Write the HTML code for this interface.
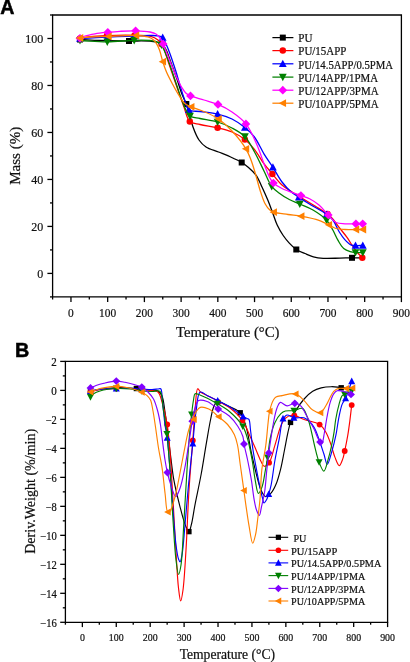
<!DOCTYPE html>
<html><head><meta charset="utf-8"><title>TGA / DTG curves</title>
<style>
html,body{margin:0;padding:0;background:#fff;}
body{width:410px;height:662px;overflow:hidden;font-family:"Liberation Serif",serif;}
svg{display:block;filter:blur(0.45px);}
</style></head><body>
<svg width="410" height="662" viewBox="0 0 410 662">
<g stroke="#000" stroke-width="1.3" fill="none">
<path d="M52.6,15 H401.4 V296.9 H52.6 Z"/>
<path d="M52.6,296.9 H50"/>
<path d="M52.6,273.41 H47.4"/>
<path d="M52.6,249.92 H50"/>
<path d="M52.6,226.42 H47.4"/>
<path d="M52.6,202.93 H50"/>
<path d="M52.6,179.44 H47.4"/>
<path d="M52.6,155.95 H50"/>
<path d="M52.6,132.46 H47.4"/>
<path d="M52.6,108.97 H50"/>
<path d="M52.6,85.47 H47.4"/>
<path d="M52.6,61.98 H50"/>
<path d="M52.6,38.49 H47.4"/>
<path d="M52.6,15 H50"/>
<path d="M52.6,296.9 V299.5"/>
<path d="M70.96,296.9 V302.1"/>
<path d="M89.32,296.9 V299.5"/>
<path d="M107.67,296.9 V302.1"/>
<path d="M126.03,296.9 V299.5"/>
<path d="M144.39,296.9 V302.1"/>
<path d="M162.75,296.9 V299.5"/>
<path d="M181.11,296.9 V302.1"/>
<path d="M199.46,296.9 V299.5"/>
<path d="M217.82,296.9 V302.1"/>
<path d="M236.18,296.9 V299.5"/>
<path d="M254.54,296.9 V302.1"/>
<path d="M272.89,296.9 V299.5"/>
<path d="M291.25,296.9 V302.1"/>
<path d="M309.61,296.9 V299.5"/>
<path d="M327.97,296.9 V302.1"/>
<path d="M346.33,296.9 V299.5"/>
<path d="M364.68,296.9 V302.1"/>
<path d="M383.04,296.9 V299.5"/>
<path d="M401.4,296.9 V302.1"/>
</g>
<g font-family="Liberation Serif, serif" fill="#111" stroke="#111" stroke-width="0.22">
<text x="43.2" y="277.91" font-size="13" text-anchor="end" textLength="6" lengthAdjust="spacingAndGlyphs" >0</text>
<text x="43.2" y="230.92" font-size="13" text-anchor="end" textLength="12" lengthAdjust="spacingAndGlyphs" >20</text>
<text x="43.2" y="183.94" font-size="13" text-anchor="end" textLength="12" lengthAdjust="spacingAndGlyphs" >40</text>
<text x="43.2" y="136.96" font-size="13" text-anchor="end" textLength="12" lengthAdjust="spacingAndGlyphs" >60</text>
<text x="43.2" y="89.97" font-size="13" text-anchor="end" textLength="12" lengthAdjust="spacingAndGlyphs" >80</text>
<text x="43.2" y="42.99" font-size="13" text-anchor="end" textLength="18" lengthAdjust="spacingAndGlyphs" >100</text>
<text x="70.96" y="317.4" font-size="12.6" text-anchor="middle" textLength="5.7" lengthAdjust="spacingAndGlyphs" >0</text>
<text x="107.67" y="317.4" font-size="12.6" text-anchor="middle" textLength="17.1" lengthAdjust="spacingAndGlyphs" >100</text>
<text x="144.39" y="317.4" font-size="12.6" text-anchor="middle" textLength="17.1" lengthAdjust="spacingAndGlyphs" >200</text>
<text x="181.11" y="317.4" font-size="12.6" text-anchor="middle" textLength="17.1" lengthAdjust="spacingAndGlyphs" >300</text>
<text x="217.82" y="317.4" font-size="12.6" text-anchor="middle" textLength="17.1" lengthAdjust="spacingAndGlyphs" >400</text>
<text x="254.54" y="317.4" font-size="12.6" text-anchor="middle" textLength="17.1" lengthAdjust="spacingAndGlyphs" >500</text>
<text x="291.25" y="317.4" font-size="12.6" text-anchor="middle" textLength="17.1" lengthAdjust="spacingAndGlyphs" >600</text>
<text x="327.97" y="317.4" font-size="12.6" text-anchor="middle" textLength="17.1" lengthAdjust="spacingAndGlyphs" >700</text>
<text x="364.68" y="317.4" font-size="12.6" text-anchor="middle" textLength="17.1" lengthAdjust="spacingAndGlyphs" >800</text>
<text x="401.4" y="317.4" font-size="12.6" text-anchor="middle" textLength="17.1" lengthAdjust="spacingAndGlyphs" >900</text>
<text x="227.7" y="336.9" font-size="14.6" text-anchor="middle" textLength="103.5" lengthAdjust="spacingAndGlyphs" >Temperature (&#176;C)</text>
<text transform="translate(19.5,155.8) rotate(-90)" font-size="14.3" text-anchor="middle" textLength="58" lengthAdjust="spacingAndGlyphs">Mass (%)</text>
</g>
<text x="0.2" y="13.8" font-family="Liberation Sans, sans-serif" font-weight="bold" font-size="19.6" stroke="#000" stroke-width="0.5">A</text>
<path d="M80,39.5 C86.67,39.83 92.71,40.26 100,40.5 C108.77,40.79 120.11,40.88 129,41 C136.56,41.1 144.67,40.74 150,41.2 C153.31,41.48 155.58,41.54 158,42.5 C160.36,43.43 162.52,44.5 164.4,46.8 C167.25,50.28 169.07,57.68 171.2,63.2 C173.33,68.72 175.37,74.61 177.2,79.9 C178.84,84.65 180.09,89.29 181.7,93.5 C183.14,97.26 184.94,100.34 186.3,104 C187.72,107.83 188.86,112.08 190,116 C191.09,119.74 191.63,123.24 193,127 C194.54,131.21 196.56,136.5 199,140 C201.03,142.91 203.09,145.08 206,147 C209.39,149.23 214.36,150.32 218.5,152 C222.59,153.66 226.77,155.22 230.7,157 C234.49,158.72 238.54,160.59 241.7,162.5 C244.31,164.08 246.26,165.47 248.5,167.4 C251.04,169.59 253.82,172.05 256,175.1 C258.44,178.52 260.13,183.02 262.1,187.2 C264.17,191.58 266.28,196.38 268.1,200.8 C269.79,204.93 271.18,208.86 272.7,212.9 C274.22,216.93 275.41,221.18 277.2,225 C278.93,228.7 281.06,232.36 283.2,235.5 C285.12,238.32 287.1,240.75 289.3,243.1 C291.47,245.42 293.69,247.77 296.3,249.5 C298.92,251.24 302.11,252.27 305,253.5 C307.81,254.7 310.45,256 313.4,256.8 C316.5,257.63 319.48,258.04 323.2,258.3 C328.04,258.64 334.87,258.19 340,258.1 C344.34,258.02 348.18,257.85 352,257.8 C355.48,257.76 358.67,257.8 362,257.8" fill="none" stroke="#000000" stroke-width="1.3" stroke-linejoin="round"/>
<rect x="77" y="36.5" width="6" height="6" fill="#000000"/>
<rect x="126" y="38" width="6" height="6" fill="#000000"/>
<rect x="183.3" y="101" width="6" height="6" fill="#000000"/>
<rect x="238.7" y="159.5" width="6" height="6" fill="#000000"/>
<rect x="293.3" y="246.5" width="6" height="6" fill="#000000"/>
<rect x="349" y="254.8" width="6" height="6" fill="#000000"/>
<path d="M80,38.5 C83.33,37.87 86.21,37.07 90,36.6 C94.9,35.99 100.58,35.81 107,35.6 C115.38,35.32 128.08,35.2 136,35.4 C141.51,35.54 146.06,35.19 150,36.2 C153.13,37 155.82,38.18 158,40 C160.14,41.79 161.51,44.14 163,47 C164.96,50.76 166.31,56.17 168,61 C169.8,66.15 171.67,71.67 173.5,77 C175.33,82.33 177.2,87.85 179,93 C180.69,97.83 182.22,102.31 184,107 C185.82,111.81 186.67,118.65 189.8,121.5 C192.38,123.85 196.11,123.57 200,124.5 C205.05,125.71 212.06,126.48 217.6,127.8 C222.67,129.01 227.44,130.05 232,132 C236.54,133.95 241.11,136.53 244.9,139.5 C248.53,142.34 251.38,145.55 254.4,149.3 C257.82,153.55 260.88,159.57 264.1,163.9 C266.87,167.63 269.51,170.49 272.4,173.9 C275.47,177.52 278.56,181.9 282,185 C285.14,187.83 288.73,189.85 292,192 C295.02,193.99 297.59,195.48 300.9,197.5 C305.06,200.04 310.23,202.94 315,206 C320.09,209.27 326.29,212.69 330.5,216.6 C334.15,219.99 336.47,224.03 339.3,227.6 C341.96,230.95 344.77,234.28 347,237.4 C348.91,240.08 350.3,242.62 352,245.1 C353.64,247.48 355.24,249.86 357,252 C358.68,254.05 360.53,255.8 362.3,257.7" fill="none" stroke="#ff0000" stroke-width="1.3" stroke-linejoin="round"/>
<circle cx="80" cy="38.5" r="3.24" fill="#ff0000"/>
<circle cx="107" cy="35.6" r="3.24" fill="#ff0000"/>
<circle cx="134.5" cy="35.4" r="3.24" fill="#ff0000"/>
<circle cx="161.5" cy="44" r="3.24" fill="#ff0000"/>
<circle cx="189.8" cy="121.5" r="3.24" fill="#ff0000"/>
<circle cx="217.6" cy="127.8" r="3.24" fill="#ff0000"/>
<circle cx="244.9" cy="139.5" r="3.24" fill="#ff0000"/>
<circle cx="272.4" cy="173.9" r="3.24" fill="#ff0000"/>
<circle cx="300" cy="197" r="3.24" fill="#ff0000"/>
<circle cx="327.5" cy="214" r="3.24" fill="#ff0000"/>
<circle cx="362.3" cy="257.7" r="3.24" fill="#ff0000"/>
<path d="M80,38.5 C89.17,38 98.33,37.42 107.5,37 C116.66,36.58 127.21,36.27 135,36 C140.75,35.8 145.78,35.49 150,35.5 C153.08,35.51 155.72,35.33 158,35.8 C159.81,36.17 161.43,36.46 162.7,37.6 C164.22,38.96 164.92,41.68 166,44 C167.23,46.65 168.31,49.25 169.6,52.7 C171.44,57.62 173.87,65.02 175.7,70.8 C177.37,76.05 178.75,81.15 180.2,85.9 C181.5,90.16 182.57,94.02 184,98 C185.43,101.99 185.99,107.58 188.8,109.8 C191.45,111.89 195.85,110.88 200,111.5 C205.21,112.28 212.08,112.77 217.6,114.1 C222.7,115.33 227.47,116.77 232,119 C236.57,121.25 241.06,124.47 244.9,127.6 C248.46,130.51 251.46,133.16 254.4,137 C257.97,141.66 260.85,148.82 264.1,154.1 C267.02,158.84 269.98,162.76 272.9,167.3 C275.95,172.04 278.79,177.76 282,182 C284.77,185.66 287.71,188.85 290.7,191.5 C293.33,193.83 295.79,195.28 298.8,197.3 C302.42,199.74 306.82,202.46 311,205 C315.32,207.63 320.47,210.09 324.3,212.8 C327.53,215.09 330.29,216.95 332.7,219.9 C335.39,223.2 337.09,228.49 339.3,232 C341.13,234.89 342.74,237.38 344.8,239.6 C346.76,241.72 349.24,244.23 351.3,245.1 C352.75,245.71 353.91,245.42 355.5,245.5 C357.6,245.6 360.37,245.5 362.8,245.5" fill="none" stroke="#0000ff" stroke-width="1.3" stroke-linejoin="round"/>
<path d="M80,34.42 L83.9,41.76 L76.1,41.76Z" fill="#0000ff"/>
<path d="M107.5,32.92 L111.4,40.26 L103.6,40.26Z" fill="#0000ff"/>
<path d="M135,31.92 L138.9,39.26 L131.1,39.26Z" fill="#0000ff"/>
<path d="M162.7,33.52 L166.6,40.86 L158.8,40.86Z" fill="#0000ff"/>
<path d="M188.8,105.72 L192.7,113.06 L184.9,113.06Z" fill="#0000ff"/>
<path d="M217.6,110.02 L221.5,117.36 L213.7,117.36Z" fill="#0000ff"/>
<path d="M244.9,123.52 L248.8,130.86 L241,130.86Z" fill="#0000ff"/>
<path d="M272.9,163.22 L276.8,170.56 L269,170.56Z" fill="#0000ff"/>
<path d="M298.8,193.22 L302.7,200.56 L294.9,200.56Z" fill="#0000ff"/>
<path d="M326.5,210.42 L330.4,217.76 L322.6,217.76Z" fill="#0000ff"/>
<path d="M355.5,241.42 L359.4,248.76 L351.6,248.76Z" fill="#0000ff"/>
<path d="M362.8,241.42 L366.7,248.76 L358.9,248.76Z" fill="#0000ff"/>
<path d="M80,40.5 C89.1,40.93 98.23,41.84 107.3,41.8 C116.3,41.76 126.42,40.47 134.2,40.3 C140.16,40.17 145.8,40.09 150,40.5 C152.82,40.78 154.97,40.84 157,41.8 C158.94,42.72 160.52,44.05 162,46 C164.01,48.65 165.41,53.08 167,57 C168.76,61.35 170.36,66.24 172,71 C173.69,75.9 175.23,80.85 177,86 C178.89,91.5 180.7,97.78 183,103 C185.09,107.74 186.75,113.59 190,116.1 C192.7,118.19 196.19,117.66 200,118.5 C205.03,119.6 212.11,120.33 217.6,122 C222.72,123.56 227.44,125.56 232,128 C236.54,130.43 241.25,132.85 244.9,136.6 C248.81,140.62 251.35,146.26 254.4,151.7 C257.77,157.71 261.06,165.12 264.1,171.2 C266.78,176.56 268.79,182.49 271.7,186.3 C273.92,189.21 276.26,190.81 279,192.9 C282.05,195.23 285.77,197.63 289.3,199.5 C292.71,201.31 296.11,202.37 299.8,204 C303.96,205.84 308.7,207.45 313,210 C317.65,212.76 323.19,216.52 326.6,220.2 C329.39,223.21 330.8,226.45 332.7,229.8 C334.67,233.27 336.23,237.45 338.2,240.7 C339.93,243.56 341.52,246.55 343.7,248.4 C345.6,250.02 348.1,250.92 350.2,251.6 C352.01,252.19 353.58,252.34 355.5,252.5 C357.73,252.69 360.37,252.5 362.8,252.5" fill="none" stroke="#008000" stroke-width="1.3" stroke-linejoin="round"/>
<path d="M80,44.58 L83.9,37.24 L76.1,37.24Z" fill="#008000"/>
<path d="M107.3,45.88 L111.2,38.54 L103.4,38.54Z" fill="#008000"/>
<path d="M134.2,44.38 L138.1,37.04 L130.3,37.04Z" fill="#008000"/>
<path d="M161.5,49.08 L165.4,41.74 L157.6,41.74Z" fill="#008000"/>
<path d="M190,120.18 L193.9,112.84 L186.1,112.84Z" fill="#008000"/>
<path d="M217.6,126.08 L221.5,118.74 L213.7,118.74Z" fill="#008000"/>
<path d="M244.9,140.68 L248.8,133.34 L241,133.34Z" fill="#008000"/>
<path d="M271.7,190.38 L275.6,183.04 L267.8,183.04Z" fill="#008000"/>
<path d="M299.8,208.08 L303.7,200.74 L295.9,200.74Z" fill="#008000"/>
<path d="M326.6,224.28 L330.5,216.94 L322.7,216.94Z" fill="#008000"/>
<path d="M355.5,256.58 L359.4,249.24 L351.6,249.24Z" fill="#008000"/>
<path d="M362.8,256.58 L366.7,249.24 L358.9,249.24Z" fill="#008000"/>
<path d="M80,38.3 C81.67,37.53 83,36.67 85,36 C87.72,35.09 91.45,34.4 95,33.8 C98.99,33.13 103.58,32.72 107.8,32.3 C111.91,31.89 115.68,31.55 120,31.3 C124.88,31.02 130.51,30.67 135.6,30.8 C140.5,30.93 146.27,31.23 150,32 C152.47,32.51 154.3,32.95 156,34 C157.6,34.99 158.84,36.43 160,38 C161.27,39.72 162.03,41.47 163.2,44 C165.07,48.05 167.48,54.9 169.6,60.2 C171.65,65.33 173.58,70.58 175.7,75.3 C177.63,79.6 179.68,84.13 181.7,87.4 C183.22,89.86 184.64,92.04 186.3,93.5 C187.62,94.66 188.64,95.1 190.5,95.9 C193.67,97.27 199.46,98.6 204,100 C208.63,101.43 213.43,102.46 218,104.4 C222.77,106.42 227.5,108.9 232,112 C236.82,115.32 241.93,118.95 245.9,123.9 C250.37,129.48 253.71,137.55 256.8,144.4 C259.72,150.89 261.72,157.89 264.1,163.9 C266.17,169.14 268.31,175.1 270.2,178.5 C271.32,180.51 271.89,181.56 273.4,183 C275.45,184.95 278.46,186.74 282,188.5 C286.97,190.98 295.74,193.55 300.9,195.5 C304.49,196.85 307.06,197.48 310,199 C313.1,200.6 316.11,202.54 319,205 C322.24,207.76 325.31,211.94 328.3,215 C330.95,217.71 333.07,221.06 336,222.5 C338.69,223.83 341.85,223.57 345,223.8 C348.45,224.05 352.69,223.8 355.9,223.8 C358.43,223.8 360.43,223.8 362.7,223.8" fill="none" stroke="#ff00ff" stroke-width="1.3" stroke-linejoin="round"/>
<path d="M80,33.95 L84.35,38.3 L80,42.65 L75.65,38.3Z" fill="#ff00ff"/>
<path d="M107.8,27.95 L112.15,32.3 L107.8,36.65 L103.45,32.3Z" fill="#ff00ff"/>
<path d="M135.6,26.45 L139.95,30.8 L135.6,35.15 L131.25,30.8Z" fill="#ff00ff"/>
<path d="M163.2,39.65 L167.55,44 L163.2,48.35 L158.85,44Z" fill="#ff00ff"/>
<path d="M190.5,91.55 L194.85,95.9 L190.5,100.25 L186.15,95.9Z" fill="#ff00ff"/>
<path d="M218,100.05 L222.35,104.4 L218,108.75 L213.65,104.4Z" fill="#ff00ff"/>
<path d="M245.9,119.55 L250.25,123.9 L245.9,128.25 L241.55,123.9Z" fill="#ff00ff"/>
<path d="M273.4,178.65 L277.75,183 L273.4,187.35 L269.05,183Z" fill="#ff00ff"/>
<path d="M300.9,191.15 L305.25,195.5 L300.9,199.85 L296.55,195.5Z" fill="#ff00ff"/>
<path d="M328.3,210.65 L332.65,215 L328.3,219.35 L323.95,215Z" fill="#ff00ff"/>
<path d="M355.9,219.45 L360.25,223.8 L355.9,228.15 L351.55,223.8Z" fill="#ff00ff"/>
<path d="M362.7,219.45 L367.05,223.8 L362.7,228.15 L358.35,223.8Z" fill="#ff00ff"/>
<path d="M80,38 C83.33,37.67 86.16,37.25 90,37 C95.2,36.66 102.73,36.62 108.4,36.4 C113.28,36.21 117.43,35.95 122,35.8 C126.63,35.65 131.52,35.27 136,35.5 C140.16,35.71 144.92,36.07 148,37 C150.09,37.63 151.57,38.38 153,39.5 C154.4,40.59 155.47,42 156.5,43.6 C157.68,45.43 158.57,47.5 159.5,50 C160.72,53.27 161.59,57.92 162.8,61.7 C163.96,65.34 165.05,68.7 166.6,72.3 C168.3,76.25 170.63,80.52 172.7,84.4 C174.66,88.07 176.6,91.71 178.7,95 C180.65,98.05 182.47,101.49 184.8,103.5 C186.73,105.17 188.62,105.65 191.2,106.8 C194.89,108.44 200.48,109.99 205,112 C209.59,114.04 214.18,116.03 218.5,119 C223.21,122.24 227.67,126.38 232,131 C236.84,136.16 242.61,143.37 245.9,148.8 C248.33,152.81 249.46,156.01 251,160 C252.69,164.36 254.04,169.16 255.5,174 C257.05,179.14 258.34,184.9 260,190 C261.56,194.8 263.17,200.25 265.1,203.8 C266.48,206.34 267.98,208.35 269.6,209.8 C270.89,210.95 271.84,211.53 273.7,212.2 C276.95,213.37 283.32,213.82 288,214.5 C292.48,215.15 296.69,215.42 301.2,216.2 C306.01,217.03 311.31,217.92 316,219.4 C320.49,220.82 325.17,223.1 328.8,224.8 C331.57,226.09 333.39,227.71 336,228.5 C338.76,229.33 341.85,229.33 345,229.5 C348.45,229.69 352.67,229.5 355.9,229.5 C358.49,229.5 360.57,229.5 362.9,229.5" fill="none" stroke="#ff8000" stroke-width="1.3" stroke-linejoin="round"/>
<path d="M75.92,38 L83.26,34.1 L83.26,41.9Z" fill="#ff8000"/>
<path d="M104.32,36.4 L111.66,32.5 L111.66,40.3Z" fill="#ff8000"/>
<path d="M131.92,35.5 L139.26,31.6 L139.26,39.4Z" fill="#ff8000"/>
<path d="M158.72,61.7 L166.06,57.8 L166.06,65.6Z" fill="#ff8000"/>
<path d="M187.12,106.8 L194.46,102.9 L194.46,110.7Z" fill="#ff8000"/>
<path d="M214.42,119 L221.76,115.1 L221.76,122.9Z" fill="#ff8000"/>
<path d="M241.82,148.8 L249.16,144.9 L249.16,152.7Z" fill="#ff8000"/>
<path d="M269.62,212.2 L276.96,208.3 L276.96,216.1Z" fill="#ff8000"/>
<path d="M297.12,216.2 L304.46,212.3 L304.46,220.1Z" fill="#ff8000"/>
<path d="M324.72,224.8 L332.06,220.9 L332.06,228.7Z" fill="#ff8000"/>
<path d="M351.82,229.5 L359.16,225.6 L359.16,233.4Z" fill="#ff8000"/>
<path d="M358.82,229.5 L366.16,225.6 L366.16,233.4Z" fill="#ff8000"/>
<path d="M272.4,37.6 H293.4" stroke="#000000" stroke-width="1.25"/>
<rect x="279.8" y="34.6" width="6" height="6" fill="#000000"/>
<text x="298.3" y="42.4" font-family="Liberation Serif, serif" font-size="11.8" fill="#111" stroke="#111" stroke-width="0.22" textLength="14.2" lengthAdjust="spacingAndGlyphs">PU</text>
<path d="M272.4,50.6 H293.4" stroke="#ff0000" stroke-width="1.25"/>
<circle cx="282.8" cy="50.6" r="3.24" fill="#ff0000"/>
<text x="298.3" y="55.4" font-family="Liberation Serif, serif" font-size="11.8" fill="#111" stroke="#111" stroke-width="0.22" textLength="48" lengthAdjust="spacingAndGlyphs">PU/15APP</text>
<path d="M272.4,63.8 H293.4" stroke="#0000ff" stroke-width="1.25"/>
<path d="M282.8,59.72 L286.7,67.06 L278.9,67.06Z" fill="#0000ff"/>
<text x="298.3" y="68.6" font-family="Liberation Serif, serif" font-size="11.8" fill="#111" stroke="#111" stroke-width="0.22" textLength="94.8" lengthAdjust="spacingAndGlyphs">PU/14.5APP/0.5PMA</text>
<path d="M272.4,77.1 H293.4" stroke="#008000" stroke-width="1.25"/>
<path d="M282.8,81.18 L286.7,73.84 L278.9,73.84Z" fill="#008000"/>
<text x="298.3" y="81.9" font-family="Liberation Serif, serif" font-size="11.8" fill="#111" stroke="#111" stroke-width="0.22" textLength="79.8" lengthAdjust="spacingAndGlyphs">PU/14APP/1PMA</text>
<path d="M272.4,90.2 H293.4" stroke="#ff00ff" stroke-width="1.25"/>
<path d="M282.8,85.85 L287.15,90.2 L282.8,94.55 L278.45,90.2Z" fill="#ff00ff"/>
<text x="298.3" y="95" font-family="Liberation Serif, serif" font-size="11.8" fill="#111" stroke="#111" stroke-width="0.22" textLength="80.3" lengthAdjust="spacingAndGlyphs">PU/12APP/3PMA</text>
<path d="M272.4,103.2 H293.4" stroke="#ff8000" stroke-width="1.25"/>
<path d="M278.72,103.2 L286.06,99.3 L286.06,107.1Z" fill="#ff8000"/>
<text x="298.3" y="108" font-family="Liberation Serif, serif" font-size="11.8" fill="#111" stroke="#111" stroke-width="0.22" textLength="80.3" lengthAdjust="spacingAndGlyphs">PU/10APP/5PMA</text>
<g stroke="#000" stroke-width="1.3" fill="none">
<path d="M65.4,361.4 H387.6 V622.3 H65.4 Z"/>
<path d="M65.4,622.3 H60.2"/>
<path d="M65.4,607.81 H62.8"/>
<path d="M65.4,593.31 H60.2"/>
<path d="M65.4,578.82 H62.8"/>
<path d="M65.4,564.32 H60.2"/>
<path d="M65.4,549.83 H62.8"/>
<path d="M65.4,535.33 H60.2"/>
<path d="M65.4,520.84 H62.8"/>
<path d="M65.4,506.34 H60.2"/>
<path d="M65.4,491.85 H62.8"/>
<path d="M65.4,477.36 H60.2"/>
<path d="M65.4,462.86 H62.8"/>
<path d="M65.4,448.37 H60.2"/>
<path d="M65.4,433.87 H62.8"/>
<path d="M65.4,419.38 H60.2"/>
<path d="M65.4,404.88 H62.8"/>
<path d="M65.4,390.39 H60.2"/>
<path d="M65.4,375.89 H62.8"/>
<path d="M65.4,361.4 H60.2"/>
<path d="M65.4,622.3 V624.7"/>
<path d="M82.36,622.3 V627.1"/>
<path d="M99.32,622.3 V624.7"/>
<path d="M116.27,622.3 V627.1"/>
<path d="M133.23,622.3 V624.7"/>
<path d="M150.19,622.3 V627.1"/>
<path d="M167.15,622.3 V624.7"/>
<path d="M184.11,622.3 V627.1"/>
<path d="M201.06,622.3 V624.7"/>
<path d="M218.02,622.3 V627.1"/>
<path d="M234.98,622.3 V624.7"/>
<path d="M251.94,622.3 V627.1"/>
<path d="M268.89,622.3 V624.7"/>
<path d="M285.85,622.3 V627.1"/>
<path d="M302.81,622.3 V624.7"/>
<path d="M319.77,622.3 V627.1"/>
<path d="M336.73,622.3 V624.7"/>
<path d="M353.68,622.3 V627.1"/>
<path d="M370.64,622.3 V624.7"/>
<path d="M387.6,622.3 V627.1"/>
</g>
<g font-family="Liberation Serif, serif" fill="#111" stroke="#111" stroke-width="0.22">
<text x="56.8" y="626.7" font-size="11.6" text-anchor="end" textLength="16.6" lengthAdjust="spacingAndGlyphs" >&#8722;16</text>
<text x="56.8" y="597.71" font-size="11.6" text-anchor="end" textLength="16.6" lengthAdjust="spacingAndGlyphs" >&#8722;14</text>
<text x="56.8" y="568.72" font-size="11.6" text-anchor="end" textLength="16.6" lengthAdjust="spacingAndGlyphs" >&#8722;12</text>
<text x="56.8" y="539.73" font-size="11.6" text-anchor="end" textLength="16.6" lengthAdjust="spacingAndGlyphs" >&#8722;10</text>
<text x="56.8" y="510.74" font-size="11.6" text-anchor="end" textLength="11.1" lengthAdjust="spacingAndGlyphs" >&#8722;8</text>
<text x="56.8" y="481.76" font-size="11.6" text-anchor="end" textLength="11.1" lengthAdjust="spacingAndGlyphs" >&#8722;6</text>
<text x="56.8" y="452.77" font-size="11.6" text-anchor="end" textLength="11.1" lengthAdjust="spacingAndGlyphs" >&#8722;4</text>
<text x="56.8" y="423.78" font-size="11.6" text-anchor="end" textLength="11.1" lengthAdjust="spacingAndGlyphs" >&#8722;2</text>
<text x="56.8" y="394.79" font-size="11.6" text-anchor="end" textLength="5.5" lengthAdjust="spacingAndGlyphs" >0</text>
<text x="56.8" y="365.8" font-size="11.6" text-anchor="end" textLength="5.5" lengthAdjust="spacingAndGlyphs" >2</text>
<text x="82.36" y="640.9" font-size="11.3" text-anchor="middle" textLength="4.95" lengthAdjust="spacingAndGlyphs" >0</text>
<text x="116.27" y="640.9" font-size="11.3" text-anchor="middle" textLength="14.85" lengthAdjust="spacingAndGlyphs" >100</text>
<text x="150.19" y="640.9" font-size="11.3" text-anchor="middle" textLength="14.85" lengthAdjust="spacingAndGlyphs" >200</text>
<text x="184.11" y="640.9" font-size="11.3" text-anchor="middle" textLength="14.85" lengthAdjust="spacingAndGlyphs" >300</text>
<text x="218.02" y="640.9" font-size="11.3" text-anchor="middle" textLength="14.85" lengthAdjust="spacingAndGlyphs" >400</text>
<text x="251.94" y="640.9" font-size="11.3" text-anchor="middle" textLength="14.85" lengthAdjust="spacingAndGlyphs" >500</text>
<text x="285.85" y="640.9" font-size="11.3" text-anchor="middle" textLength="14.85" lengthAdjust="spacingAndGlyphs" >600</text>
<text x="319.77" y="640.9" font-size="11.3" text-anchor="middle" textLength="14.85" lengthAdjust="spacingAndGlyphs" >700</text>
<text x="353.68" y="640.9" font-size="11.3" text-anchor="middle" textLength="14.85" lengthAdjust="spacingAndGlyphs" >800</text>
<text x="387.6" y="640.9" font-size="11.3" text-anchor="middle" textLength="14.85" lengthAdjust="spacingAndGlyphs" >900</text>
<text x="227.4" y="659.2" font-size="13.6" text-anchor="middle" textLength="95.5" lengthAdjust="spacingAndGlyphs" >Temperature (&#176;C)</text>
<text transform="translate(35.2,491.3) rotate(-90)" font-size="14.0" text-anchor="middle" textLength="125" lengthAdjust="spacingAndGlyphs">Deriv.Weight (%/min)</text>
</g>
<text x="14.9" y="357.4" font-family="Liberation Sans, sans-serif" font-weight="bold" font-size="19.8" stroke="#000" stroke-width="0.5">B</text>
<path d="M90.5,391.5 C93,390.83 95.3,390.03 98,389.5 C101.08,388.89 104.51,388.53 108,388.2 C111.81,387.84 115.69,387.49 120,387.5 C125.04,387.51 131.19,388.05 136.4,388.5 C141.15,388.91 146.07,389.54 150,390 C153.02,390.36 155.95,389.85 158,391 C159.82,392.02 160.94,393.69 162,396 C163.69,399.69 164.07,406.17 165,412 C166.11,418.96 167.05,427.6 168,435 C168.88,441.9 169.59,447.98 170.5,455 C171.51,462.8 172.29,471.35 173.8,479.7 C175.38,488.44 177.79,498.17 179.9,506.3 C181.71,513.28 183.59,521.07 185.5,525.6 C186.62,528.25 187.93,531.69 188.9,531.6 C189.95,531.5 190.69,527.12 191.5,524 C192.73,519.27 193.48,512.7 194.8,505.8 C196.55,496.66 199.25,484.61 201.2,474 C203.14,463.44 204.81,452.05 206.5,442.3 C207.95,433.93 209.28,425.58 210.7,419 C211.76,414.11 212.41,409.42 213.9,406.3 C214.91,404.19 215.81,401.96 217.5,401.5 C219.59,400.93 222.85,403.49 226,405 C230.18,407 236.83,409.04 240.2,412.8 C243.51,416.49 244.49,421.61 246.2,427.2 C248.42,434.44 249.59,444.61 251.4,452.9 C253.1,460.71 254.88,468.83 256.7,475.6 C258.2,481.17 259.39,486.93 261.3,490.7 C262.62,493.3 264.09,496.41 265.8,496.7 C267.36,496.96 269.46,494.86 271,493.2 C272.94,491.11 274.44,488 275.9,484.6 C277.79,480.21 279.31,474.29 280.7,468.8 C282.17,462.96 283.18,456.6 284.4,450.5 C285.62,444.4 286.84,437.34 288,432.2 C288.85,428.41 289.34,425.74 290.5,422.4 C291.79,418.69 293.46,414.75 295.6,411 C297.92,406.94 301.05,402.42 304.1,399 C306.8,395.97 309.67,393.18 312.7,391.3 C315.4,389.62 318.18,388.67 321.2,387.9 C324.42,387.08 328.12,386.76 331.5,386.7 C334.78,386.64 337.9,387.29 341.2,387.5 C344.63,387.72 348.2,387.83 351.7,388" fill="none" stroke="#000000" stroke-width="1.15" stroke-linejoin="round"/>
<rect x="87.8" y="388.8" width="5.4" height="5.4" fill="#000000"/>
<rect x="133.7" y="385.8" width="5.4" height="5.4" fill="#000000"/>
<rect x="186.2" y="528.9" width="5.4" height="5.4" fill="#000000"/>
<rect x="237.5" y="410.1" width="5.4" height="5.4" fill="#000000"/>
<rect x="287.8" y="419.7" width="5.4" height="5.4" fill="#000000"/>
<rect x="338.5" y="385.1" width="5.4" height="5.4" fill="#000000"/>
<path d="M90.5,392 C93,391.33 95.44,390.5 98,390 C100.61,389.49 103.16,389.25 106,389 C109.21,388.72 112.62,388.59 116.3,388.5 C120.54,388.4 125.61,388.31 130,388.5 C134.08,388.67 138.01,389.15 141.8,389.5 C145.32,389.82 149.06,389.99 152,390.5 C154.28,390.89 156.43,390.63 158,392 C160.08,393.81 160.73,397.94 162,402 C163.86,407.94 165.89,416.58 167.2,424.5 C168.64,433.16 169.14,441.56 170,452 C171.13,465.78 172.02,483.68 173,500 C174.02,516.99 175,536.26 176,552 C176.83,565.1 177.43,579.01 178.5,588 C179.15,593.43 179.92,600.98 180.7,601 C181.42,601.01 182.32,594.84 183,590 C184.29,580.86 185.08,564.69 186,550 C187.12,532.03 187.79,509.03 189,490 C190.1,472.7 191.69,455.27 192.8,440.5 C193.7,428.53 194.24,417.42 195.2,408 C195.94,400.72 196.09,389.18 197.7,388.7 C198.46,388.48 199.21,390.96 200.5,392 C202.3,393.45 205.3,394.62 208,396 C211.13,397.6 214.71,399.12 218.2,401 C222.03,403.07 226.2,405.05 230,408 C234.3,411.34 239,415.58 242.4,420.4 C245.97,425.45 248.19,432.34 250.7,437.8 C252.9,442.59 254.84,447.15 256.7,451.4 C258.34,455.15 259.8,459.31 261.3,462 C262.31,463.81 263.06,466.1 264.3,466.3 C265.63,466.51 267.68,464.67 269.1,462.7 C271.58,459.25 272.99,451.28 274.9,445.3 C276.92,438.97 278.81,430.55 280.9,425.7 C282.23,422.62 283.08,420.26 285,418.5 C286.87,416.78 289.47,415.31 292.2,415.2 C295.65,415.06 299.86,418.04 304.1,419.5 C308.91,421.16 315.87,422.07 319.6,424.6 C322.43,426.52 323.86,428.95 325.6,431.8 C327.66,435.17 329.16,439.64 330.7,443.8 C332.31,448.15 333.38,453.5 335,457.4 C336.31,460.54 337.95,465.6 339.3,465.6 C340.5,465.6 341.81,461.44 342.7,459.1 C343.65,456.6 344,454.16 344.7,451 C345.67,446.61 346.94,440.24 347.8,435.2 C348.58,430.61 349.09,426.68 349.7,422 C350.39,416.72 351.03,410.73 351.7,405.1" fill="none" stroke="#ff0000" stroke-width="1.15" stroke-linejoin="round"/>
<circle cx="90.5" cy="392" r="2.92" fill="#ff0000"/>
<circle cx="116.3" cy="388.5" r="2.92" fill="#ff0000"/>
<circle cx="141.8" cy="389.5" r="2.92" fill="#ff0000"/>
<circle cx="167.2" cy="424.5" r="2.92" fill="#ff0000"/>
<circle cx="192.8" cy="440.5" r="2.92" fill="#ff0000"/>
<circle cx="218.2" cy="402.2" r="2.92" fill="#ff0000"/>
<circle cx="242.4" cy="420.4" r="2.92" fill="#ff0000"/>
<circle cx="269.1" cy="462.7" r="2.92" fill="#ff0000"/>
<circle cx="294.3" cy="415.5" r="2.92" fill="#ff0000"/>
<circle cx="319.6" cy="424.6" r="2.92" fill="#ff0000"/>
<circle cx="344.7" cy="451" r="2.92" fill="#ff0000"/>
<circle cx="351.7" cy="405.1" r="2.92" fill="#ff0000"/>
<path d="M90.5,391 C93,390.53 95.45,389.95 98,389.6 C100.62,389.24 103.16,389.08 106,388.9 C109.21,388.7 112.62,388.57 116.3,388.5 C120.54,388.42 125.6,388.41 130,388.5 C134.08,388.59 138.01,388.83 141.8,389 C145.32,389.16 149.05,389.55 152,389.5 C154.27,389.46 156.39,389.13 158,389 C159.08,388.92 160,388.24 160.7,388.8 C162.17,389.98 161.82,396.03 162.4,400.7 C163.23,407.36 164.05,418.2 165,425 C165.69,429.96 166.52,432.55 167.2,437.8 C168.27,446.08 169.08,458.68 170,470 C171.02,482.61 171.96,497.11 173,510 C173.97,522.06 174.81,535.98 176,545 C176.76,550.74 177.47,556.17 178.5,559 C178.99,560.35 179.61,561.86 180.1,561.8 C180.83,561.71 181.42,558.11 182,555 C183.21,548.58 183.99,535.72 185,525 C186.16,512.63 187.21,498.45 188.5,485 C189.81,471.29 191.48,456.38 192.8,443.5 C193.95,432.28 194.56,421.27 196,412 C197.16,404.57 197.25,393.53 200.2,392.1 C202.13,391.17 205.25,394.66 208,396 C211.05,397.49 214.29,398.91 217.7,400.6 C221.57,402.53 225.93,404.47 230,407 C234.4,409.74 239.95,414.7 243.1,416.6 C244.73,417.58 245.93,417.99 247,418.5 C247.74,418.86 248.39,418.71 248.9,419.4 C250.05,420.95 249.94,425.91 250.5,430 C251.27,435.61 251.99,443.35 253,450 C254.02,456.68 255.37,463.49 256.6,470 C257.78,476.24 259.05,482.98 260.2,488.3 C261.1,492.44 262.08,496.62 262.8,499.3 C263.22,500.87 263.29,502.88 263.9,503 C264.57,503.13 266.02,500.71 266.8,499.3 C267.65,497.77 268.07,496.11 268.7,494.1 C269.54,491.42 270.39,488.52 271.2,484.6 C272.48,478.43 273.51,468.4 274.9,460.5 C276.25,452.81 278.02,444.91 279.4,437.8 C280.62,431.51 280.92,423.96 282.8,420 C283.93,417.62 285.24,415.44 287,415 C288.88,414.53 291.33,417.3 293.9,417.8 C296.9,418.38 301.18,416.91 304,417.8 C306.4,418.56 308.26,420.31 310,422 C311.76,423.71 313.15,425.61 314.5,428 C316.17,430.97 317.36,434.79 318.8,438.7 C320.5,443.32 322.37,449.4 323.9,454 C325.15,457.77 326.08,464.28 327.3,464.3 C328.63,464.32 330.27,456.69 331.6,452.3 C333.17,447.14 334.7,440.95 335.9,435.2 C337.1,429.45 337.67,423.23 338.8,417.8 C339.81,412.94 340.77,407.62 342.2,404.1 C343.19,401.67 344.43,400.81 345.6,398.3 C347.53,394.17 349.67,386.9 351.7,381.2" fill="none" stroke="#0000ff" stroke-width="1.15" stroke-linejoin="round"/>
<path d="M90.5,387.33 L94.01,393.94 L86.99,393.94Z" fill="#0000ff"/>
<path d="M116.3,384.83 L119.81,391.44 L112.79,391.44Z" fill="#0000ff"/>
<path d="M141.8,385.33 L145.31,391.94 L138.29,391.94Z" fill="#0000ff"/>
<path d="M167.2,434.13 L170.71,440.74 L163.69,440.74Z" fill="#0000ff"/>
<path d="M192.8,439.83 L196.31,446.44 L189.29,446.44Z" fill="#0000ff"/>
<path d="M217.7,396.93 L221.21,403.54 L214.19,403.54Z" fill="#0000ff"/>
<path d="M243.1,412.93 L246.61,419.54 L239.59,419.54Z" fill="#0000ff"/>
<path d="M268.7,490.43 L272.21,497.04 L265.19,497.04Z" fill="#0000ff"/>
<path d="M283,414.83 L286.51,421.44 L279.49,421.44Z" fill="#0000ff"/>
<path d="M293.9,414.13 L297.41,420.74 L290.39,420.74Z" fill="#0000ff"/>
<path d="M345.6,394.63 L349.11,401.24 L342.09,401.24Z" fill="#0000ff"/>
<path d="M351.7,377.53 L355.21,384.14 L348.19,384.14Z" fill="#0000ff"/>
<path d="M90.5,397 C91.67,395.83 92.56,394.46 94,393.5 C95.65,392.4 97.82,391.68 100,391 C102.44,390.24 105.3,389.72 108,389.3 C110.73,388.88 113.19,388.59 116.3,388.5 C120.29,388.38 125.62,388.55 130,389 C134.09,389.42 138,390.59 141.8,391 C145.31,391.38 148.82,391.46 152,391.5 C154.8,391.53 158.02,389.78 159.9,391.3 C162.77,393.62 162.22,402.81 163.3,409.3 C164.57,416.87 165.85,424.98 166.9,434 C168.16,444.86 169.05,457.01 170,470 C171.12,485.29 171.94,504.27 173,520 C173.95,534.08 174.73,550 176,560 C176.77,566.06 177.67,574.47 178.6,574.5 C179.36,574.53 180.31,569.38 181,565 C182.49,555.6 183.02,535.4 184,520 C185.03,503.77 186,485.18 187,470 C187.83,457.29 188.62,445.12 189.5,435 C190.17,427.22 190.87,420.65 191.6,414.4 C192.21,409.17 192.76,403.79 193.5,400 C193.99,397.49 193.87,394.53 195.1,393.8 C196.19,393.15 197.92,394.23 200,395 C204.07,396.5 212.06,400.68 217.3,403.7 C221.94,406.37 225.98,408.53 230,412 C234.53,415.91 239.8,421.45 242.8,426.4 C245.34,430.59 246.26,434.41 247.7,439.3 C249.5,445.43 250.93,453.55 252.2,460.5 C253.41,467.14 254.04,474.22 255.2,480.1 C256.16,484.98 257,493.21 258.4,493.4 C259.42,493.54 260.98,489.75 262,487 C263.56,482.78 264.42,475.25 265.4,470 C266.24,465.49 266.87,462.07 267.6,457.4 C268.51,451.59 268.97,443.86 270.3,437.8 C271.49,432.39 272.89,426.98 274.9,422.7 C276.57,419.15 278.8,415.58 280.9,413.6 C282.35,412.23 283.59,411.53 285.4,411 C287.72,410.32 291.09,411.03 293.9,410.6 C296.76,410.17 300.17,407.44 302.4,408.4 C304.87,409.46 306.19,414.39 307.6,417.8 C309.11,421.48 309.92,425.52 311,429.8 C312.23,434.67 313.18,440.2 314.5,445.5 C315.87,451 317.25,457.59 319.1,462.2 C320.51,465.72 322.45,471.21 323.9,471.1 C325.53,470.98 326.94,463.26 328.2,459.1 C329.52,454.74 330.62,450.06 331.6,445.5 C332.58,440.96 333.4,436.25 334.1,431.8 C334.76,427.6 334.94,423.81 335.7,419.5 C336.55,414.64 337.84,408.44 339.1,404.1 C340.06,400.81 340.88,397.07 342.2,395.6 C342.92,394.8 343.59,394.9 344.6,394.4 C346.34,393.55 349.33,392.13 351.7,391" fill="none" stroke="#008000" stroke-width="1.15" stroke-linejoin="round"/>
<path d="M90.5,400.67 L94.01,394.06 L86.99,394.06Z" fill="#008000"/>
<path d="M116.3,392.17 L119.81,385.56 L112.79,385.56Z" fill="#008000"/>
<path d="M141.8,394.67 L145.31,388.06 L138.29,388.06Z" fill="#008000"/>
<path d="M166.9,437.67 L170.41,431.06 L163.39,431.06Z" fill="#008000"/>
<path d="M191.6,418.07 L195.11,411.46 L188.09,411.46Z" fill="#008000"/>
<path d="M217.3,407.37 L220.81,400.76 L213.79,400.76Z" fill="#008000"/>
<path d="M242.8,430.07 L246.31,423.46 L239.29,423.46Z" fill="#008000"/>
<path d="M267.6,461.07 L271.11,454.46 L264.09,454.46Z" fill="#008000"/>
<path d="M293.9,414.27 L297.41,407.66 L290.39,407.66Z" fill="#008000"/>
<path d="M319.1,465.87 L322.61,459.26 L315.59,459.26Z" fill="#008000"/>
<path d="M344.6,398.07 L348.11,391.46 L341.09,391.46Z" fill="#008000"/>
<path d="M351.7,394.67 L355.21,388.06 L348.19,388.06Z" fill="#008000"/>
<path d="M90.5,387.9 C92.33,387.1 93.97,386.23 96,385.5 C98.39,384.64 101.03,383.88 104,383.2 C107.64,382.37 112.55,381.16 116.3,381.1 C119.45,381.05 122.09,381.75 125,382.3 C127.99,382.87 131.12,383.67 134,384.5 C136.71,385.28 139.49,385.87 141.8,387.1 C143.96,388.25 145.68,389.71 147.5,391.5 C149.6,393.57 151.86,396.02 153.5,399 C155.43,402.5 156.64,407.21 157.8,411.5 C158.98,415.87 159.78,420.55 160.5,425 C161.2,429.31 161.47,432.93 162.1,437.8 C162.93,444.29 164.07,454.14 165.1,460.5 C165.85,465.14 166.43,468.4 167.4,472.5 C168.44,476.91 169.73,481.89 171.2,486.1 C172.53,489.9 174.15,496.65 175.7,496.7 C177.15,496.75 178.87,491.37 180.2,487.7 C182.08,482.49 183.45,474.82 184.8,468 C186.24,460.72 187.27,452.98 188.5,445.3 C189.77,437.39 191.07,428.02 192.3,421.2 C193.22,416.13 193.76,411.71 195,408 C195.96,405.11 196.53,401.71 198.5,400.6 C200.52,399.46 204.19,400.43 207.1,401.5 C210.73,402.83 214.47,406.67 218.2,409.1 C221.87,411.5 226.04,413.17 229.3,416 C232.58,418.86 235.49,422.65 237.8,426.2 C239.95,429.5 241.89,433.26 242.9,436.5 C243.72,439.13 243.45,441.03 244,444 C244.82,448.44 246.51,454.75 247.7,460.5 C248.99,466.74 250.33,473.59 251.4,480.1 C252.46,486.52 253.11,493.85 254.1,499.3 C254.85,503.4 255.44,507.09 256.5,510 C257.29,512.17 258.52,515.49 259.3,515.4 C260.26,515.29 260.74,509.91 261.5,506.6 C262.48,502.35 263.76,497.39 264.6,492 C265.62,485.44 266.05,476.87 266.8,470 C267.46,463.94 268.07,458.4 268.8,452.9 C269.48,447.76 270.18,443.2 271,438 C271.9,432.28 272.88,425.37 274,420 C274.92,415.58 275.72,411.18 277,408 C277.92,405.7 278.64,402.87 280.2,402.4 C281.91,401.89 284.7,405.73 287.1,405.9 C289.56,406.08 292.42,403.19 294.8,403.3 C296.92,403.39 298.89,404.28 300.7,405.9 C303.34,408.26 305.32,413.82 307.6,417.8 C309.88,421.79 312.61,426.13 314.4,429.8 C315.84,432.75 316.71,435.76 317.8,438 C318.59,439.63 319.33,441.03 320.1,442.1 C320.67,442.89 321.28,444.13 321.8,444 C322.94,443.7 323.67,436.24 324.5,432 C325.42,427.29 326.04,421.95 327,417 C327.95,412.09 328.9,406.56 330.2,402.4 C331.22,399.13 332.28,395.93 333.7,393.9 C334.71,392.46 335.57,391.27 337.1,390.8 C339.17,390.16 343.04,391.3 345.5,392 C347.57,392.59 349.17,393.6 351,394.4" fill="none" stroke="#8000ff" stroke-width="1.15" stroke-linejoin="round"/>
<path d="M90.5,383.98 L94.42,387.9 L90.5,391.81 L86.58,387.9Z" fill="#8000ff"/>
<path d="M116.3,377.19 L120.22,381.1 L116.3,385.02 L112.38,381.1Z" fill="#8000ff"/>
<path d="M141.8,383.19 L145.72,387.1 L141.8,391.02 L137.89,387.1Z" fill="#8000ff"/>
<path d="M167.4,468.58 L171.31,472.5 L167.4,476.42 L163.49,472.5Z" fill="#8000ff"/>
<path d="M192.3,417.28 L196.22,421.2 L192.3,425.12 L188.39,421.2Z" fill="#8000ff"/>
<path d="M218.2,405.19 L222.11,409.1 L218.2,413.02 L214.28,409.1Z" fill="#8000ff"/>
<path d="M244,440.08 L247.91,444 L244,447.92 L240.09,444Z" fill="#8000ff"/>
<path d="M268.8,448.98 L272.72,452.9 L268.8,456.81 L264.88,452.9Z" fill="#8000ff"/>
<path d="M294.8,399.38 L298.72,403.3 L294.8,407.22 L290.88,403.3Z" fill="#8000ff"/>
<path d="M320.1,438.19 L324.02,442.1 L320.1,446.02 L316.19,442.1Z" fill="#8000ff"/>
<path d="M351,390.48 L354.92,394.4 L351,398.31 L347.08,394.4Z" fill="#8000ff"/>
<path d="M90.5,392.1 C92.67,391.23 94.69,390.23 97,389.5 C99.5,388.71 102.09,388.1 105,387.6 C108.43,387.01 112.5,386.37 116.3,386.4 C120.17,386.43 123.98,386.93 128,387.8 C132.45,388.77 138.36,390.58 141.8,392.2 C144.07,393.27 145.62,394.25 147.1,395.6 C148.49,396.87 149.59,398.08 150.5,400 C151.79,402.74 152.23,406.98 153,411 C153.92,415.82 154.65,421.3 155.5,427 C156.48,433.52 157.39,441.1 158.5,448 C159.59,454.76 161.05,460.9 162.1,468 C163.29,476.01 164.07,485.87 165.1,493.7 C165.98,500.32 165.97,510.95 167.8,512 C168.5,512.4 169.57,511.75 170.3,511 C171.6,509.66 172.28,505.9 173.2,503 C174.26,499.64 175.17,496.41 176.2,492 C177.73,485.49 179.51,475.26 181,467.6 C182.32,460.79 183.44,454.51 184.7,448.3 C185.88,442.47 186.9,436.5 188.3,431.4 C189.49,427.05 190.87,422.97 192.3,419.5 C193.47,416.67 194.56,414.11 196,412 C197.24,410.18 198.34,408.01 200.2,407.4 C202.41,406.67 205.98,407.81 208.8,409.1 C212.17,410.64 215.52,414.19 218.7,416.8 C221.78,419.33 225.01,421.55 227.6,424.5 C230.26,427.53 232.73,431.25 234.4,434.8 C235.95,438.1 236.63,441.06 237.5,445 C238.65,450.22 239.15,456.75 240.1,463.5 C241.25,471.67 242.81,482.75 243.9,490.6 C244.74,496.63 245.29,501.04 246.1,506.6 C246.98,512.66 247.88,519.4 249,525.6 C250.09,531.59 251.4,543.13 252.7,543.2 C253.63,543.25 254.81,537.81 255.6,534.4 C256.64,529.88 257.09,523.89 257.8,518.3 C258.57,512.23 259.38,506.33 260,499.3 C260.77,490.6 260.76,479.33 261.8,470 C262.76,461.39 264.74,453.37 265.8,445.3 C266.81,437.61 267.37,428.95 268.1,422.7 C268.62,418.25 268.73,415.05 269.6,411.3 C270.48,407.48 271.98,402.48 273.4,400 C274.22,398.57 274.8,397.72 276,397 C277.49,396.1 279.58,396.03 282,395.6 C285.61,394.96 291.78,392.82 295.6,393.9 C299,394.86 301.35,398.13 304.1,400.7 C307.07,403.48 309.64,408.11 312.7,410.1 C315.14,411.69 318.16,413.4 320.4,412.7 C322.97,411.9 325.09,406.87 326.8,404.1 C328.24,401.77 329.02,399.48 330.2,397.3 C331.33,395.22 332.18,392.81 333.7,391.3 C335.1,389.92 336.87,388.9 338.8,388.4 C340.95,387.85 343.76,388.58 346.1,388.5 C348.28,388.43 350.3,388.17 352.4,388" fill="none" stroke="#ff8000" stroke-width="1.15" stroke-linejoin="round"/>
<path d="M86.83,392.1 L93.44,388.59 L93.44,395.61Z" fill="#ff8000"/>
<path d="M112.63,386.4 L119.24,382.89 L119.24,389.91Z" fill="#ff8000"/>
<path d="M138.13,392.2 L144.74,388.69 L144.74,395.71Z" fill="#ff8000"/>
<path d="M164.13,512 L170.74,508.49 L170.74,515.51Z" fill="#ff8000"/>
<path d="M190.13,419.6 L196.74,416.09 L196.74,423.11Z" fill="#ff8000"/>
<path d="M215.03,416.8 L221.64,413.29 L221.64,420.31Z" fill="#ff8000"/>
<path d="M240.23,490.6 L246.84,487.09 L246.84,494.11Z" fill="#ff8000"/>
<path d="M265.93,411.3 L272.54,407.79 L272.54,414.81Z" fill="#ff8000"/>
<path d="M291.93,393.9 L298.54,390.39 L298.54,397.41Z" fill="#ff8000"/>
<path d="M316.73,412.7 L323.34,409.19 L323.34,416.21Z" fill="#ff8000"/>
<path d="M342.43,388.5 L349.04,384.99 L349.04,392.01Z" fill="#ff8000"/>
<path d="M348.73,388 L355.34,384.49 L355.34,391.51Z" fill="#ff8000"/>
<path d="M268.5,537.3 H288.2" stroke="#000000" stroke-width="1.1"/>
<rect x="275.8" y="534.7" width="5.2" height="5.2" fill="#000000"/>
<text x="293.4" y="541.5" font-family="Liberation Serif, serif" font-size="11.0" fill="#111" stroke="#111" stroke-width="0.22" textLength="13" lengthAdjust="spacingAndGlyphs">PU</text>
<path d="M268.5,550.3 H288.2" stroke="#ff0000" stroke-width="1.1"/>
<circle cx="278.4" cy="550.3" r="2.81" fill="#ff0000"/>
<text x="291" y="554.5" font-family="Liberation Serif, serif" font-size="11.0" fill="#111" stroke="#111" stroke-width="0.22" textLength="46.3" lengthAdjust="spacingAndGlyphs">PU/15APP</text>
<path d="M268.5,562.9 H288.2" stroke="#0000ff" stroke-width="1.1"/>
<path d="M278.4,559.36 L281.78,565.73 L275.02,565.73Z" fill="#0000ff"/>
<text x="291" y="567.1" font-family="Liberation Serif, serif" font-size="11.0" fill="#111" stroke="#111" stroke-width="0.22" textLength="90.3" lengthAdjust="spacingAndGlyphs">PU/14.5APP/0.5PMA</text>
<path d="M268.5,575.6 H288.2" stroke="#008000" stroke-width="1.1"/>
<path d="M278.4,579.14 L281.78,572.77 L275.02,572.77Z" fill="#008000"/>
<text x="291" y="579.8" font-family="Liberation Serif, serif" font-size="11.0" fill="#111" stroke="#111" stroke-width="0.22" textLength="74.3" lengthAdjust="spacingAndGlyphs">PU/14APP/1PMA</text>
<path d="M268.5,588.4 H288.2" stroke="#8000ff" stroke-width="1.1"/>
<path d="M278.4,584.63 L282.17,588.4 L278.4,592.17 L274.63,588.4Z" fill="#8000ff"/>
<text x="291" y="592.6" font-family="Liberation Serif, serif" font-size="11.0" fill="#111" stroke="#111" stroke-width="0.22" textLength="74.3" lengthAdjust="spacingAndGlyphs">PU/12APP/3PMA</text>
<path d="M268.5,601 H288.2" stroke="#ff8000" stroke-width="1.1"/>
<path d="M274.86,601 L281.23,597.62 L281.23,604.38Z" fill="#ff8000"/>
<text x="291" y="605.2" font-family="Liberation Serif, serif" font-size="11.0" fill="#111" stroke="#111" stroke-width="0.22" textLength="74.3" lengthAdjust="spacingAndGlyphs">PU/10APP/5PMA</text>
</svg>
</body></html>
